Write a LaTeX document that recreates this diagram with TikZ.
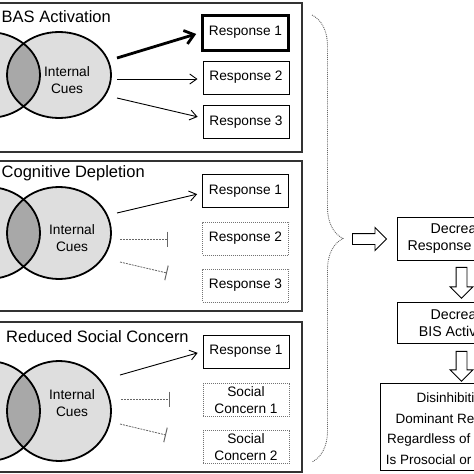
\documentclass[tikz,border=0pt]{standalone}
\usepackage{fontspec}
\setmainfont{Liberation Sans}
\usepackage{tikz}
\usetikzlibrary{calc,shapes.geometric,shapes.arrows,arrows.meta,decorations.pathreplacing}

\begin{document}
\begin{tikzpicture}[x=1pt,y=-1pt,
  panel/.style={draw=black!80,line width=1.2pt},
  title/.style={anchor=west,inner sep=0pt,font=\fontsize{16.5}{20}\selectfont},
  txt/.style={inner sep=0pt,align=center,font=\fontsize{13.7}{17}\selectfont},
  cue/.style={ellipse,draw,line width=1.8pt,minimum width=104pt,inner sep=0pt},
  soft/.style={fill=black!13}, lens/.style={fill=black!34},
  resp/.style={txt,draw,line width=1pt,minimum width=86pt,minimum height=33pt},
  weak/.style={resp,draw=black!55,densely dotted},
  go/.style={-{Straight Barb[length=7pt,width=10pt]},line width=0.9pt,shorten >=5pt},
  stop/.style={-{Bar[width=15pt,line width=1pt]},draw=black!60,line width=0.8pt,dash pattern=on 2pt off 1pt},
  outbox/.style={draw,line width=0.9pt,anchor=north west,inner xsep=2pt,inner ysep=0pt,align=flush right,font={\fontsize{14.2}{17}\selectfont\hyphenpenalty=10000}},
  fat/.style={single arrow,draw,line width=0.9pt,inner sep=5pt,single arrow head extend=6pt,anchor=tail}]
\useasboundingbox (0,0) rectangle (474,474);
\clip (0,0) rectangle (474,474);

\draw[panel] (-30,3) rectangle (302,152); \node[title] (bas) at (1.5,17) {BAS Activation};
\fill[soft] (-12,75) ellipse (52pt and 43pt) (59,75) ellipse (52pt and 43pt);
\begin{scope} \clip (-12,75) ellipse (52pt and 43pt); \fill[lens] (59,75) ellipse (52pt and 43pt); \end{scope}
\node[cue,minimum height=86pt] (ext1) at (-12,75) {}; \node[cue,minimum height=86pt] (int1) at (59,75) {};
\node[txt] (in1) at (67,80) {Internal\\Cues};
\node[resp,line width=3pt,minimum height=35pt] (r11) at (245.5,32.5) {Response 1};
\node[resp] (r12) at (246,77.5) {Response 2};
\node[resp] (r13) at (246,122) {Response 3};
\coordinate (s11) at (117,58); \coordinate (s12) at (117,79); \coordinate (s13) at (117,98);
\draw[go,line width=2.8pt,-{Straight Barb[length=9pt,width=14pt]}] (s11) -- (r11.west);
\draw[go] (s12) -- ($(r12.west)+(0,1.5)$);
\draw[go] (s13) -- ($(r13.west)+(0,-4)$);

\draw[panel] (-30,161) rectangle (302,311); \node[title] (cog) at (1.5,173) {Cognitive Depletion};
\fill[soft] (-12,233) ellipse (52pt and 46pt) (59,233) ellipse (52pt and 46pt);
\begin{scope} \clip (-12,233) ellipse (52pt and 46pt); \fill[lens] (59,233) ellipse (52pt and 46pt); \end{scope}
\node[cue,minimum height=92pt] (ext2) at (-12,233) {}; \node[cue,minimum height=92pt] (int2) at (59,233) {};
\node[txt] (in2) at (72,238) {Internal\\Cues};
\node[resp] (r21) at (245.5,191) {Response 1};
\node[weak] (r22) at (245.5,238.5) {Response 2};
\node[weak] (r23) at (245.5,285.5) {Response 3};
\coordinate (s21) at (117,213); \coordinate (s22) at (120,239); \coordinate (s23) at (120,262);
\coordinate (b22) at (168,239); \coordinate (b23) at (167,273);
\draw[go] (s21) -- ($(r21.west)+(0,2)$);
\draw[stop] (s22) -- (b22);
\draw[stop] (s23) -- (b23);

\draw[panel] (-30,322) rectangle (302,472); \node[title] (soc) at (6,337) {Reduced Social Concern};
\fill[soft] (-12,411) ellipse (52pt and 50pt) (59,411) ellipse (52pt and 50pt);
\begin{scope} \clip (-12,411) ellipse (52pt and 50pt); \fill[lens] (59,411) ellipse (52pt and 50pt); \end{scope}
\node[cue,minimum height=100pt] (ext3) at (-12,411) {}; \node[cue,minimum height=100pt] (int3) at (59,411) {};
\node[txt] (in3) at (72,403) {Internal\\Cues};
\node[resp] (r31) at (246,351.5) {Response 1};
\node[weak] (r32) at (246,400) {Social\\Concern 1};
\node[weak] (r33) at (246,447) {Social\\Concern 2};
\coordinate (s31) at (120,375); \coordinate (s32) at (121,399); \coordinate (s33) at (120,424);
\coordinate (b32) at (170,399); \coordinate (b33) at (166,435);
\draw[go] (s31) -- (r31.west);
\draw[stop] (s32) -- (b32);
\draw[stop] (s33) -- (b33);

\draw[black!60,line width=0.9pt,densely dotted,decorate,decoration={brace,amplitude=31pt,aspect=0.5}] (312,15) -- (312,462);
\coordinate (tip) at (343,239);
\node[fat,minimum height=34pt] (a1) at ($(tip)+(9,0)$) {};
\node[outbox,text width=77pt,minimum height=43pt] (out1) at (397,217) {Decrea\\Response\kern5pt};
\node[fat,minimum height=31pt,shape border rotate=270] (a2) at ($(out1.south west)+(64.5,6)$) {};
\node[outbox,text width=77pt,minimum height=41pt] (out2) at (397,302) {Decrea\\BIS Activ};
\node[fat,minimum height=30pt,shape border rotate=270] (a3) at ($(out2.south west)+(64.5,7)$) {};
\node[outbox,text width=92pt,minimum height=87pt,font={\fontsize{13.5}{20.7}\selectfont\hyphenpenalty=10000}] (out3) at (380,383) {\rule{0pt}{13pt}Disinhibiti\\Dominant Re\\Regardless of\kern4pt\\Is Prosocial or\kern3pt};
\end{tikzpicture}
\end{document}
